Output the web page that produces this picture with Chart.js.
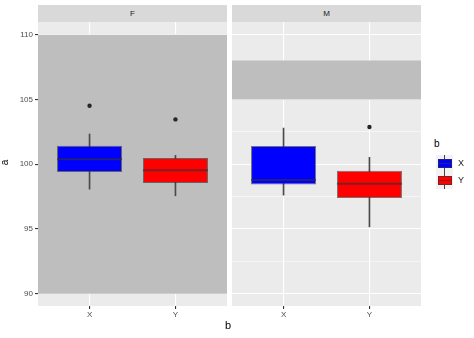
<!DOCTYPE html>
<html>
<head>
<meta charset="utf-8">
<script src="https://cdn.jsdelivr.net/npm/chart.js@4.4.0/dist/chart.umd.min.js"></script>
<style>
  body { margin: 0; background: #fff; font-family: "Liberation Sans", Arial, sans-serif; }
  #wrap { position: relative; width: 474px; height: 338px; overflow: hidden; }
  canvas { position: absolute; top: 0; }
  .strip { position: absolute; top: 5px; height: 17px; background: #D9D9D9; color: #1A1A1A;
           font-size: 8px; line-height: 17px; text-align: center; }
  .lab { position: absolute; color: #000; }
  .key { position: absolute; left: 436px; width: 17px; height: 17px; background: #F2F2F2; }
  .key .wh { position: absolute; left: 8px; width: 1px; top: 0; height: 17px; background: #444; }
  .key .bx { position: absolute; left: 2px; top: 4px; width: 12px; height: 7px; border: 1px solid rgba(51,51,51,0.6); }
  .key .md { position: absolute; left: 2px; top: 8px; width: 14px; height: 1px; background: rgba(51,51,51,0.6); }
</style>
</head>
<body>
<div id="wrap">
  <canvas id="panelF" width="227" height="338" style="left:0"></canvas>
  <canvas id="panelM" width="189" height="338" style="left:232px"></canvas>
  <div class="strip" style="left:38px;width:189px">F</div>
  <div class="strip" style="left:232px;width:189px">M</div>
  <div class="lab" style="left:2px;top:157px;font-size:10px;transform:rotate(-90deg)">a</div>
  <div class="lab" style="left:225px;top:319px;font-size:11px">b</div>
  <div class="lab" style="left:434px;top:138px;font-size:10px">b</div>
  <div class="key" style="top:155px"><div class="wh"></div><div class="bx" style="background:#0000FF"></div><div class="md"></div></div>
  <div class="lab" style="left:458px;top:158px;font-size:9px;color:#1A1A1A">X</div>
  <div class="key" style="top:172px"><div class="wh"></div><div class="bx" style="background:#FF0000"></div><div class="md"></div></div>
  <div class="lab" style="left:458px;top:175px;font-size:9px;color:#1A1A1A">Y</div>
</div>
<script>
// Data
const groups = ["X", "Y"];
const groupPos = [1, 2];
const groupColors = ["#0000FF", "#FF0000"];
const xRange = [0.4, 2.6];
const yTicks = [90, 92.5, 95, 97.5, 100, 102.5, 105, 107.5, 110];

// panel F
const shadeF = [90, 110];
const lowF = [98.07, 97.56];
const q1F = [99.39, 98.54];
const medF = [100.39, 99.54];
const q3F = [101.42, 100.47];
const highF = [102.33, 100.68];
const outF = [104.51, 103.46];

// panel M
const shadeM = [105, 108];
const lowM = [97.61, 95.16];
const q1M = [98.44, 97.38];
const medM = [98.77, 98.49];
const q3M = [101.40, 99.49];
const highM = [102.79, 100.53];
const outM = [null, 102.87];

const lineCol = "rgba(51,51,51,0.65)";

// grey panel background
const panelBg = {
  id: "panelBg",
  beforeDraw(chart) {
    const a = chart.chartArea;
    const ctx = chart.ctx;
    ctx.save();
    ctx.fillStyle = "#EBEBEB";
    ctx.fillRect(a.left, a.top, a.right - a.left, a.bottom - a.top);
    ctx.restore();
  },
};

function makePanel(id, shade, low, q1, med, q3, high, out, showY) {
  return new Chart(document.getElementById(id), {
    type: "bar",
    data: {
      datasets: [
        {
          // shaded rectangle across the panel
          type: "line",
          data: xRange.map((x) => ({ x: x, y: shade[1] })),
          fill: { value: shade[0] },
          backgroundColor: "#BEBEBE",
          borderWidth: 0,
          pointRadius: 0,
          order: 6,
        },
        {
          data: groupPos.map((x, i) => ({ x: x, y: [low[i], high[i]] })),
          backgroundColor: "#4a4a4a",
          barThickness: 1,
          grouped: false,
          order: 4,
        },
        {
          data: groupPos.map((x, i) => ({ x: x, y: [q1[i], q3[i]] })),
          backgroundColor: groupColors,
          borderColor: lineCol,
          borderWidth: 1,
          borderSkipped: false,
          barPercentage: 0.757,
          categoryPercentage: 1,
          grouped: false,
          order: 3,
        },
        {
          type: "line",
          data: groupPos.map((x, i) => ({ x: x, y: med[i] })),
          showLine: false,
          pointStyle: "line",
          pointRadius: 32.5,
          pointBorderWidth: 2,
          pointBorderColor: lineCol,
          order: 2,
        },
        {
          type: "line",
          data: groupPos.map((x, i) => ({ x: x, y: out[i] })),
          showLine: false,
          pointRadius: 2.2,
          pointBorderWidth: 0,
          pointBackgroundColor: "#262626",
          order: 1,
        },
      ],
    },
    options: {
      responsive: false,
      animation: false,
      events: [],
      layout: { autoPadding: false, padding: { top: 22, left: 0, right: 0, bottom: 0 } },
      plugins: { legend: { display: false }, tooltip: { enabled: false } },
      scales: {
        x: {
          type: "linear",
          min: xRange[0],
          max: xRange[1],
          offset: false,
          border: { display: false },
          afterBuildTicks: (s) => { s.ticks = groupPos.map((v) => ({ value: v })); },
          grid: { offset: false, color: "#FFFFFF", lineWidth: 1.1, tickColor: "#333333", tickLength: 3 },
          ticks: {
            color: "#4D4D4D",
            font: { size: 8, family: "Liberation Sans" },
            padding: 1,
            callback: (v) => groups[groupPos.indexOf(v)],
          },
          afterFit: (s) => { s.height = 32; },
        },
        y: {
          min: 89.05,
          max: 110.98,
          border: { display: false },
          afterBuildTicks: (s) => { s.ticks = yTicks.map((v) => ({ value: v })); },
          afterFit: (s) => { s.width = showY ? 38 : 0; },
          grid: {
            color: "#FFFFFF",
            lineWidth: (c) => (c.tick && c.tick.value % 5 === 0 ? 1.1 : 0.5),
            tickColor: (c) => (c.tick && c.tick.value % 5 === 0 ? "#333333" : "rgba(0,0,0,0)"),
            tickLength: 3,
            drawTicks: showY,
          },
          ticks: {
            display: showY,
            color: "#4D4D4D",
            font: { size: 8, family: "Liberation Sans" },
            padding: 2,
            callback: (v) => (v % 5 === 0 ? v : ""),
          },
        },
      },
    },
    plugins: [panelBg],
  });
}

makePanel("panelF", shadeF, lowF, q1F, medF, q3F, highF, outF, true);
makePanel("panelM", shadeM, lowM, q1M, medM, q3M, highM, outM, false);
</script>
</body>
</html>
